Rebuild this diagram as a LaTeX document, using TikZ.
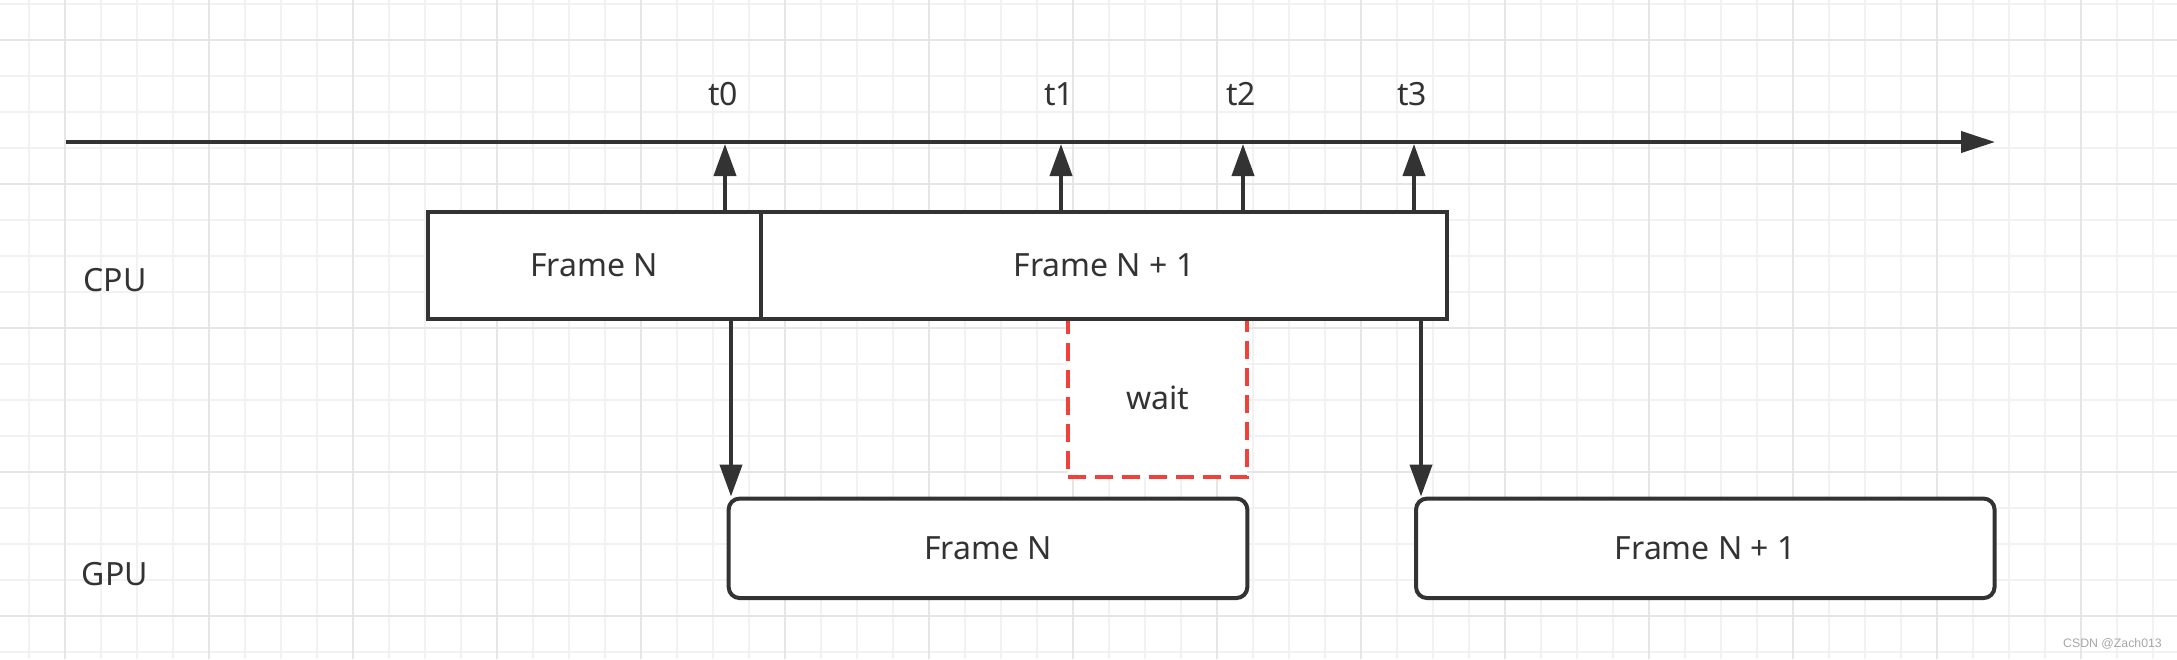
\documentclass[tikz,border=0pt]{standalone}
\usepackage{fontspec}
\setmainfont{Noto Sans}
\newfontfamily\wmfont{Liberation Sans}
\usetikzlibrary{arrows.meta,positioning}

\definecolor{ink}{HTML}{333333}
\definecolor{waitred}{HTML}{F2403A}
\definecolor{gridminor}{HTML}{F2F2F2}
\definecolor{gridmajor}{HTML}{E6E6E6}

\begin{document}
\begin{tikzpicture}[x=1pt, y=-1pt,
    >={Triangle[length=32pt, width=22pt]},
    txt/.style={font=\fontsize{32}{38}\selectfont, text=ink, inner sep=0pt},
    cpubox/.style={txt, draw=ink, fill=white, line width=4pt, minimum height=107pt, outer sep=0pt},
    gpubox/.style={cpubox, rounded corners=11pt, minimum height=99.5pt},
    waitbox/.style={txt, draw=waitred, fill=white, line width=4pt, dash pattern=on 18pt off 9pt,
        minimum width=179pt, minimum height=158pt},
    flow/.style={->, draw=ink, line width=4pt},
    timeline/.style={-{Triangle[length=34pt, width=21pt]}, draw=ink, line width=4pt},
    wmark/.style={font=\wmfont\fontsize{12.3}{14}\selectfont, text=black!35, inner sep=0pt}
]
    \useasboundingbox (0,0) rectangle (2177,659);

    % ---------- 背景网格 ----------
    \foreach \x in {29,65,...,2177} \draw[gridminor, line width=1.5pt] (\x,0) -- (\x,659);
    \foreach \y in {4,40,...,659} \draw[gridminor, line width=1.5pt] (0,\y) -- (2177,\y);
    \foreach \x in {65,209,...,2177} \draw[gridmajor, line width=1.5pt] (\x,0) -- (\x,659);
    \foreach \y in {40,184,...,659} \draw[gridmajor, line width=1.5pt] (0,\y) -- (2177,\y);

    % ---------- 等待区（虚线框）----------
    \node[waitbox] (waitN) at (1157.85,398) {wait};

    % ---------- CPU 帧 ----------
    \node[cpubox, minimum width=333pt] (cpuN) at (594.2,265.5) {Frame N};
    \node[cpubox, minimum width=686.7pt, right=0pt of cpuN] (cpuN1) {Frame N + 1};

    % ---------- GPU 帧 ----------
    \node[gpubox, minimum width=518.7pt] (gpuN) at (988,548.3) {Frame N};
    \node[gpubox, minimum width=578.5pt] (gpuN1) at (1705.3,548.3) {Frame N + 1};

    % 行标签
    \node[txt] (cpu) at (115,280) {CPU};
    \node[txt] (gpu) at (115,574) {GPU};

    % ---------- 时间轴 ----------
    \coordinate (axL) at (66,142);
    \coordinate (axR) at (1995,142);
    \draw[timeline] (axL) -- (axR);

    % 时刻 t0 ~ t3
    \foreach \i/\x in {0/725, 1/1061, 2/1243, 3/1414} {
        \coordinate (tk\i) at (\x,144);
        \node[txt] (lbl\i) at (\x-2,94) {t\i};
    }
    \draw[flow] (tk0 |- cpuN.north) -- (tk0);
    \foreach \i in {1,2,3} \draw[flow] (tk\i |- cpuN1.north) -- (tk\i);

    % ---------- CPU 提交到 GPU ----------
    \coordinate (dn0) at (731,0);
    \coordinate (dn1) at (1421,0);
    \draw[flow, shorten >=2pt] (dn0 |- cpuN.south) -- (dn0 |- gpuN.north);
    \draw[flow, shorten >=2pt] (dn1 |- cpuN1.south) -- (dn1 |- gpuN1.north);

    % 水印
    \node[wmark, anchor=east] (wm) at (2162,644) {CSDN @Zach013};

\end{tikzpicture}
\end{document}
